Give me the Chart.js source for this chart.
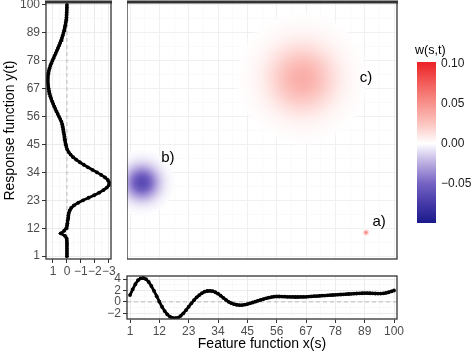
<!DOCTYPE html>
<html><head><meta charset="utf-8">
<script src="https://cdn.jsdelivr.net/npm/chart.js@4.4.0/dist/chart.umd.min.js"></script>
<style>
html,body{margin:0;padding:0;background:#fff;}
body{width:474px;height:355px;position:relative;overflow:hidden;font-family:"Liberation Sans",Arial,sans-serif;}
canvas{position:absolute;}
#legendTitle{position:absolute;left:415px;top:43px;font-size:12.5px;line-height:14px;color:#000;}
</style></head><body>
<canvas id="leftChart" style="left:0;top:0" width="122" height="281"></canvas>
<canvas id="mainChart" style="left:127px;top:0" width="272" height="260"></canvas>
<canvas id="bottomChart" style="left:0;top:262px" width="420" height="93"></canvas>
<canvas id="legendChart" style="left:417px;top:50px" width="57" height="180"></canvas>
<div id="legendTitle">w(s,t)</div>
<script>
// ---------- data ----------
const gridIndex = Array.from({length: 100}, (_, i) => i + 1); // s and t = 1..100
const featureX = [1.2,2.2,3.1,3.8,4.15,4.2,4.0,3.5,2.8,1.95,
  1.0,0.05,-0.85,-1.6,-2.2,-2.6,-2.8,-2.85,-2.75,-2.45,
  -2.0,-1.45,-0.85,-0.25,0.3,0.8,1.2,1.55,1.8,1.92,
  1.95,1.88,1.7,1.45,1.1,0.72,0.35,0.02,-0.22,-0.4,
  -0.5,-0.55,-0.55,-0.48,-0.38,-0.25,-0.1,0.05,0.2,0.35,
  0.5,0.63,0.75,0.85,0.92,0.95,0.95,0.94,0.92,0.9,
  0.88,0.87,0.86,0.86,0.87,0.88,0.9,0.93,0.96,1.0,
  1.03,1.06,1.09,1.12,1.15,1.18,1.21,1.24,1.27,1.3,
  1.33,1.36,1.39,1.42,1.45,1.48,1.5,1.52,1.53,1.53,
  1.52,1.5,1.48,1.46,1.46,1.5,1.58,1.7,1.85,2.0];
const responseY = [0,0,0,0,0,0,0.01,0.03,0.15,0.45,
  0.2,0.05,0.0,-0.03,-0.05,-0.08,-0.1,-0.14,-0.2,-0.3,
  -0.5,-0.8,-1.15,-1.55,-1.95,-2.3,-2.6,-2.85,-3.0,-3.02,
  -2.92,-2.72,-2.45,-2.15,-1.82,-1.5,-1.2,-0.92,-0.66,-0.44,
  -0.26,-0.12,-0.02,0.04,0.08,0.12,0.15,0.18,0.21,0.24,
  0.27,0.3,0.34,0.4,0.48,0.57,0.66,0.75,0.83,0.91,
  0.99,1.06,1.13,1.19,1.24,1.28,1.31,1.34,1.36,1.37,
  1.37,1.36,1.34,1.3,1.25,1.19,1.12,1.04,0.96,0.88,
  0.8,0.72,0.64,0.56,0.49,0.42,0.36,0.3,0.25,0.2,
  0.16,0.12,0.09,0.06,0.04,0.03,0.02,0.01,0.0,0.0];
const gridBreaks = [1,12,23,34,45,56,67,78,89,100];
const gridMinor = [6.5,17.5,28.5,39.5,50.5,61.5,72.5,83.5,94.5];
const leftBreaks = [1,0,-1,-2,-3];
const leftMinor = [0.5,-0.5,-1.5,-2.5];
const bottomBreaks = [4,2,0,-2];
const bottomMinor = [3,1,-1,-3];
const legendBreaks = [0.1,0.05,0,-0.05];
// weight-surface blobs
const blobS = [89.5, 5.5, 65.5];
const blobT = [10.3, 30, 71];
const blobW = [0.06, -0.065, 0.036];
const blobSpread = [0.55, 4.2, 8.5];
const labelText = ['a)','b)','c)'];
const labelS = [94.4, 15.2, 89.5];
const labelT = [14.4, 39.9, 71.3];

// ---------- styling helpers ----------
const FONT = '"Liberation Sans", Arial, sans-serif';
const colorStops = [
  [-0.1,[26,26,139]],[-0.075,[70,58,168]],[-0.05,[118,100,195]],[-0.025,[186,172,225]],
  [0,[255,255,255]],[0.025,[252,196,191]],[0.05,[248,146,140]],[0.075,[242,95,92]],[0.1,[236,38,42]]];
function colorFor(v, a){
  v = Math.max(-0.1, Math.min(0.1, v));
  for (let i=0;i<colorStops.length-1;i++){
    const [v0,c0]=colorStops[i],[v1,c1]=colorStops[i+1];
    if (v>=v0 && v<=v1){
      const f=(v-v0)/(v1-v0);
      const c=c0.map((x,k)=>Math.round(x+(c1[k]-x)*f));
      return `rgba(${c[0]},${c[1]},${c[2]},${a===undefined?1:a})`;
    }
  }
  return 'white';
}
function withTicks(major, minor){
  return (scale)=>{
    const t=[...major.map(v=>({value:v,isMajor:true})),...minor.map(v=>({value:v,isMajor:false}))];
    t.sort((a,b)=>a.value-b.value);
    scale.ticks=t;
  };
}
const fitH = h => s => { s.height=h; s.paddingLeft=0; s.paddingRight=0; };
const fitW = w => s => { s.width=w; s.paddingTop=0; s.paddingBottom=0; };
const fmt = v => String(v).replace('-', '\u2212');
function gridOpts(){
  return {
    color: c => c.tick && c.tick.isMajor ? '#EBEBEB' : '#F5F5F5',
    lineWidth: c => c.tick && c.tick.isMajor ? 1 : 0.6,
    tickColor: c => c.tick && c.tick.isMajor ? '#333333' : 'rgba(0,0,0,0)',
    tickLength: 4, drawTicks: true
  };
}
function makeFrame(thickTop){
  return {
    id:'frame',
    afterDraw(chart){
      const {ctx, chartArea:a} = chart;
      ctx.save(); ctx.strokeStyle='#333333'; ctx.lineWidth=1.3;
      ctx.strokeRect(a.left, a.top, a.right-a.left, a.bottom-a.top);
      if (thickTop){ ctx.lineWidth=3; ctx.beginPath(); ctx.moveTo(a.left-1,a.top); ctx.lineTo(a.right+1,a.top); ctx.stroke(); }
      ctx.restore();
    }
  };
}
const tickFont = {family: FONT, size: 12};
const tickColor = '#4D4D4D';
const curveStyle = {borderColor:'#000', backgroundColor:'#000', borderWidth:2.8, pointRadius:1.9,
  pointBorderWidth:0, pointBackgroundColor:'#000', showLine:true, tension:0};
const dashStyle = {borderColor:'#BDBDBD', borderWidth:1, borderDash:[4,3], pointRadius:0, showLine:true};

Chart.defaults.font.family = FONT;
Chart.defaults.animation = false;
Chart.defaults.events = [];
Chart.defaults.layout.autoPadding = false;
Chart.defaults.plugins.legend.display = false;
Chart.defaults.plugins.tooltip.enabled = false;

const T_MIN = -0.125, T_MAX = 101.125, S_MIN = -0.125, S_MAX = 101.125;

// ---------- left panel: y(t) ----------
new Chart(document.getElementById('leftChart'), {
  type:'scatter',
  data:{datasets:[
    {data:gridIndex.map((t,i)=>({x:responseY[i], y:t})), ...curveStyle},
    {data:[{x:0,y:T_MIN},{x:0,y:T_MAX}], ...dashStyle}
  ]},
  options:{responsive:false, layout:{autoPadding:false, padding:{top:2,right:11,left:0,bottom:0}},
    scales:{
      x:{type:'linear', reverse:true, min:-3.15, max:1.5, afterBuildTicks:withTicks(leftBreaks,leftMinor),
        afterFit:fitH(22), border:{display:false}, grid:gridOpts(),
        ticks:{font:tickFont, color:tickColor, padding:1, autoSkip:false, maxRotation:0,
          callback:(v,i,t)=>t[i].isMajor?fmt(v):''}},
      y:{type:'linear', min:T_MIN, max:T_MAX, afterBuildTicks:withTicks(gridBreaks,gridMinor),
        afterFit:fitW(46), border:{display:false}, grid:gridOpts(),
        title:{display:true, text:'Response function y(t)', color:'#000', font:{family:FONT,size:14}, padding:{top:2,bottom:0}},
        ticks:{font:tickFont, color:tickColor, padding:2, autoSkip:false,
          callback:(v,i,t)=>t[i].isMajor?fmt(v):''}}
    }},
  plugins:[makeFrame(true)]
});

// ---------- main panel: w(s,t) heat map ----------
const labelPlugin = {
  id:'blobLabels',
  afterDatasetsDraw(chart){
    const {ctx, scales:{x,y}} = chart;
    ctx.save(); ctx.fillStyle='#000'; ctx.font='15px '+FONT; ctx.textAlign='center'; ctx.textBaseline='middle';
    labelText.forEach((txt,i)=>ctx.fillText(txt, x.getPixelForValue(labelS[i]), y.getPixelForValue(labelT[i])));
    ctx.restore();
  }
};
const mainChart = new Chart(document.getElementById('mainChart'), {
  type:'bubble',
  data:{datasets:[{
    data:blobS.map((s,i)=>({x:s, y:blobT[i], r:1})),
    clip:0, borderWidth:0, backgroundColor:'rgba(0,0,0,0)'
  }]},
  options:{responsive:false, layout:{autoPadding:false, padding:{top:2,right:2,left:0,bottom:1}},
    scales:{
      x:{type:'linear', min:S_MIN, max:S_MAX, afterBuildTicks:withTicks(gridBreaks,gridMinor),
        afterFit:fitH(0), border:{display:false},
        grid:{color:c=>c.tick&&c.tick.isMajor?'#F0F0F0':'#F7F7F7', lineWidth:c=>c.tick&&c.tick.isMajor?1:0.6, drawTicks:false},
        ticks:{display:false}},
      y:{type:'linear', min:T_MIN, max:T_MAX, afterBuildTicks:withTicks(gridBreaks,gridMinor),
        afterFit:fitW(0), border:{display:false},
        grid:{color:c=>c.tick&&c.tick.isMajor?'#F0F0F0':'#F7F7F7', lineWidth:c=>c.tick&&c.tick.isMajor?1:0.6, drawTicks:false},
        ticks:{display:false}}
    }},
  plugins:[labelPlugin, makeFrame(true)]
});
(function applyBlobs(){
  const xs=mainChart.scales.x, ys=mainChart.scales.y, a=mainChart.chartArea;
  const ppu=(a.right-a.left)/(S_MAX-S_MIN);
  const ds=mainChart.data.datasets[0];
  ds.data = blobS.map((s,i)=>({x:s, y:blobT[i], r:3*blobSpread[i]*ppu}));
  ds.backgroundColor = blobS.map((s,i)=>{
    const cx=xs.getPixelForValue(blobS[i]), cy=ys.getPixelForValue(blobT[i]);
    const R=3*blobSpread[i]*ppu;
    const g=mainChart.ctx.createRadialGradient(cx,cy,0,cx,cy,R);
    for (let k=0;k<=12;k++){
      const f=k/12; const v=blobW[i]*Math.exp(-Math.pow(3*f,2)/2);
      g.addColorStop(f, colorFor(v, k===12?0:1));
    }
    return g;
  });
  mainChart.update();
})();

// ---------- bottom panel: x(s) ----------
new Chart(document.getElementById('bottomChart'), {
  type:'scatter',
  data:{datasets:[
    {data:gridIndex.map((s,i)=>({x:s, y:featureX[i]})), ...curveStyle},
    {data:[{x:S_MIN,y:0},{x:S_MAX,y:0}], ...dashStyle}
  ]},
  options:{responsive:false, layout:{autoPadding:false, padding:{top:14,right:23,left:0,bottom:0}},
    scales:{
      x:{type:'linear', min:S_MIN, max:S_MAX, afterBuildTicks:withTicks(gridBreaks,gridMinor),
        afterFit:fitH(36), border:{display:false}, grid:gridOpts(),
        title:{display:true, text:'Feature function x(s)', color:'#000', font:{family:FONT,size:14}, padding:{top:0,bottom:2}},
        ticks:{font:tickFont, color:tickColor, padding:1, autoSkip:false, maxRotation:0,
          callback:(v,i,t)=>t[i].isMajor?fmt(v):''}},
      y:{type:'linear', min:-3.0, max:4.55, afterBuildTicks:withTicks(bottomBreaks,bottomMinor),
        afterFit:fitW(127), border:{display:false}, grid:gridOpts(),
        ticks:{font:tickFont, color:tickColor, padding:2, autoSkip:false,
          callback:(v,i,t)=>t[i].isMajor?fmt(v):''}}
    }},
  plugins:[makeFrame(false)]
});

// ---------- colour bar ----------
const legendChart = new Chart(document.getElementById('legendChart'), {
  type:'bar',
  data:{labels:[''], datasets:[{data:[[-0.1,0.1025]], borderWidth:0, barPercentage:1, categoryPercentage:1,
    backgroundColor:'#fff'}]},
  options:{responsive:false, layout:{autoPadding:false, padding:{top:12,bottom:7,left:0,right:0}},
    scales:{
      x:{display:false},
      y:{position:'right', min:-0.1, max:0.1025, afterBuildTicks:s=>{s.ticks=legendBreaks.map(v=>({value:v}));},
        afterFit:fitW(38), border:{display:false}, grid:{display:false, drawTicks:false},
        ticks:{font:tickFont, color:'#1A1A1A', padding:5, callback:v=>fmt(v.toFixed(2))}}
    }}
});
(function applyBar(){
  const ys=legendChart.scales.y;
  const y0=ys.getPixelForValue(-0.1), y1=ys.getPixelForValue(0.1);
  const g=legendChart.ctx.createLinearGradient(0,y0,0,y1);
  colorStops.forEach(([v])=>g.addColorStop((v+0.1)/0.2, colorFor(v)));
  legendChart.data.datasets[0].backgroundColor=g;
  legendChart.update();
})();
</script>
</body></html>
